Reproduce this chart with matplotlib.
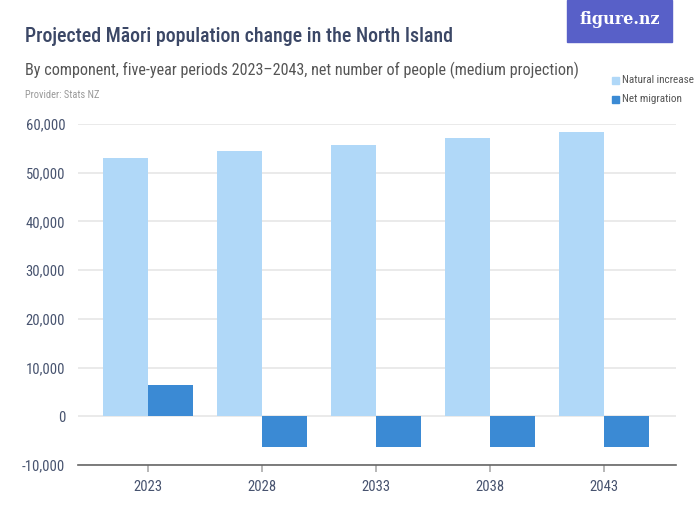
import matplotlib
matplotlib.use("Agg")
import matplotlib.pyplot as plt
from matplotlib.patches import Rectangle
import numpy as np
from matplotlib import font_manager

names = {f.name for f in font_manager.fontManager.ttflist}
FONT = "Roboto Condensed" if "Roboto Condensed" in names else "Roboto"
plt.rcParams['font.family'] = [FONT, 'DejaVu Sans']

years = ["2023", "2028", "2033", "2038", "2043"]
natural_increase = [53100, 54400, 55700, 57100, 58300]
net_migration = [6400, -6300, -6300, -6300, -6300]
series_names = ["Natural increase", "Net migration"]
yticks = [-10000, 0, 10000, 20000, 30000, 40000, 50000, 60000]

c_nat = "#b0d8f8"
c_net = "#3b8ad4"
txt = "#47536f"

fig = plt.figure(figsize=(7, 5.25), dpi=100)
ax = fig.add_axes([0.111, 0.1143, 0.855, 0.6497])
x = np.arange(len(years))
w = 0.395
ax.bar(x - w/2, natural_increase, w, color=c_nat, zorder=3)
ax.bar(x + w/2, net_migration, w, color=c_net, zorder=3)
ax.set_xlim(-0.614, 4.63)
ax.set_ylim(-10000, 60000)
ax.set_yticks(yticks)
ax.set_yticklabels([f"{v:,}" for v in yticks])
ax.set_xticks(x)
ax.set_xticklabels(years)
ax.grid(axis='y', color="#e6e6e6", lw=1.2, zorder=0)
for s in ["top", "right", "left"]:
    ax.spines[s].set_visible(False)
ax.spines["bottom"].set_color("#666666")
ax.spines["bottom"].set_linewidth(1.2)
ax.tick_params(axis='y', length=0, pad=9, labelsize=10.5, labelcolor=txt)
ax.tick_params(axis='x', length=5, color="#aaaaaa", width=1.2, pad=6, labelsize=10.5, labelcolor=txt)

fig.text(25/700, 1-37/525, "Projected Māori population change in the North Island",
         fontsize=14.3, color="#3b4766", va="center", ha="left", weight="medium")
fig.text(25/700, 1-70/525, "By component, five-year periods 2023–2043, net number of people (medium projection)",
         fontsize=11.6, color="#555555", va="center", ha="left")
fig.text(25/700, 1-95/525, "Provider: Stats NZ", fontsize=7.5, color="#999999", va="center", ha="left")

# logo
fig.patches.append(Rectangle((567/700, 1-42/525), 105/700, 42/525, transform=fig.transFigure,
                             color="#5860c8", zorder=5))
fig.text(620/700, 1-20/525, "figure.nz", fontsize=11.5, color="white", family="DejaVu Serif",
         weight="bold", va="center", ha="center", zorder=6)

# legend
for i, (name, c) in enumerate(zip(series_names, [c_nat, c_net])):
    yy = 1 - (80 + 19*i)/525
    fig.patches.append(Rectangle((612/700, yy - 3.5/525), 7/700, 7/525, transform=fig.transFigure, color=c))
    fig.text(622/700, yy, name, fontsize=8, color="#555555", va="center", ha="left")

fig.savefig("out.png", dpi=100)
